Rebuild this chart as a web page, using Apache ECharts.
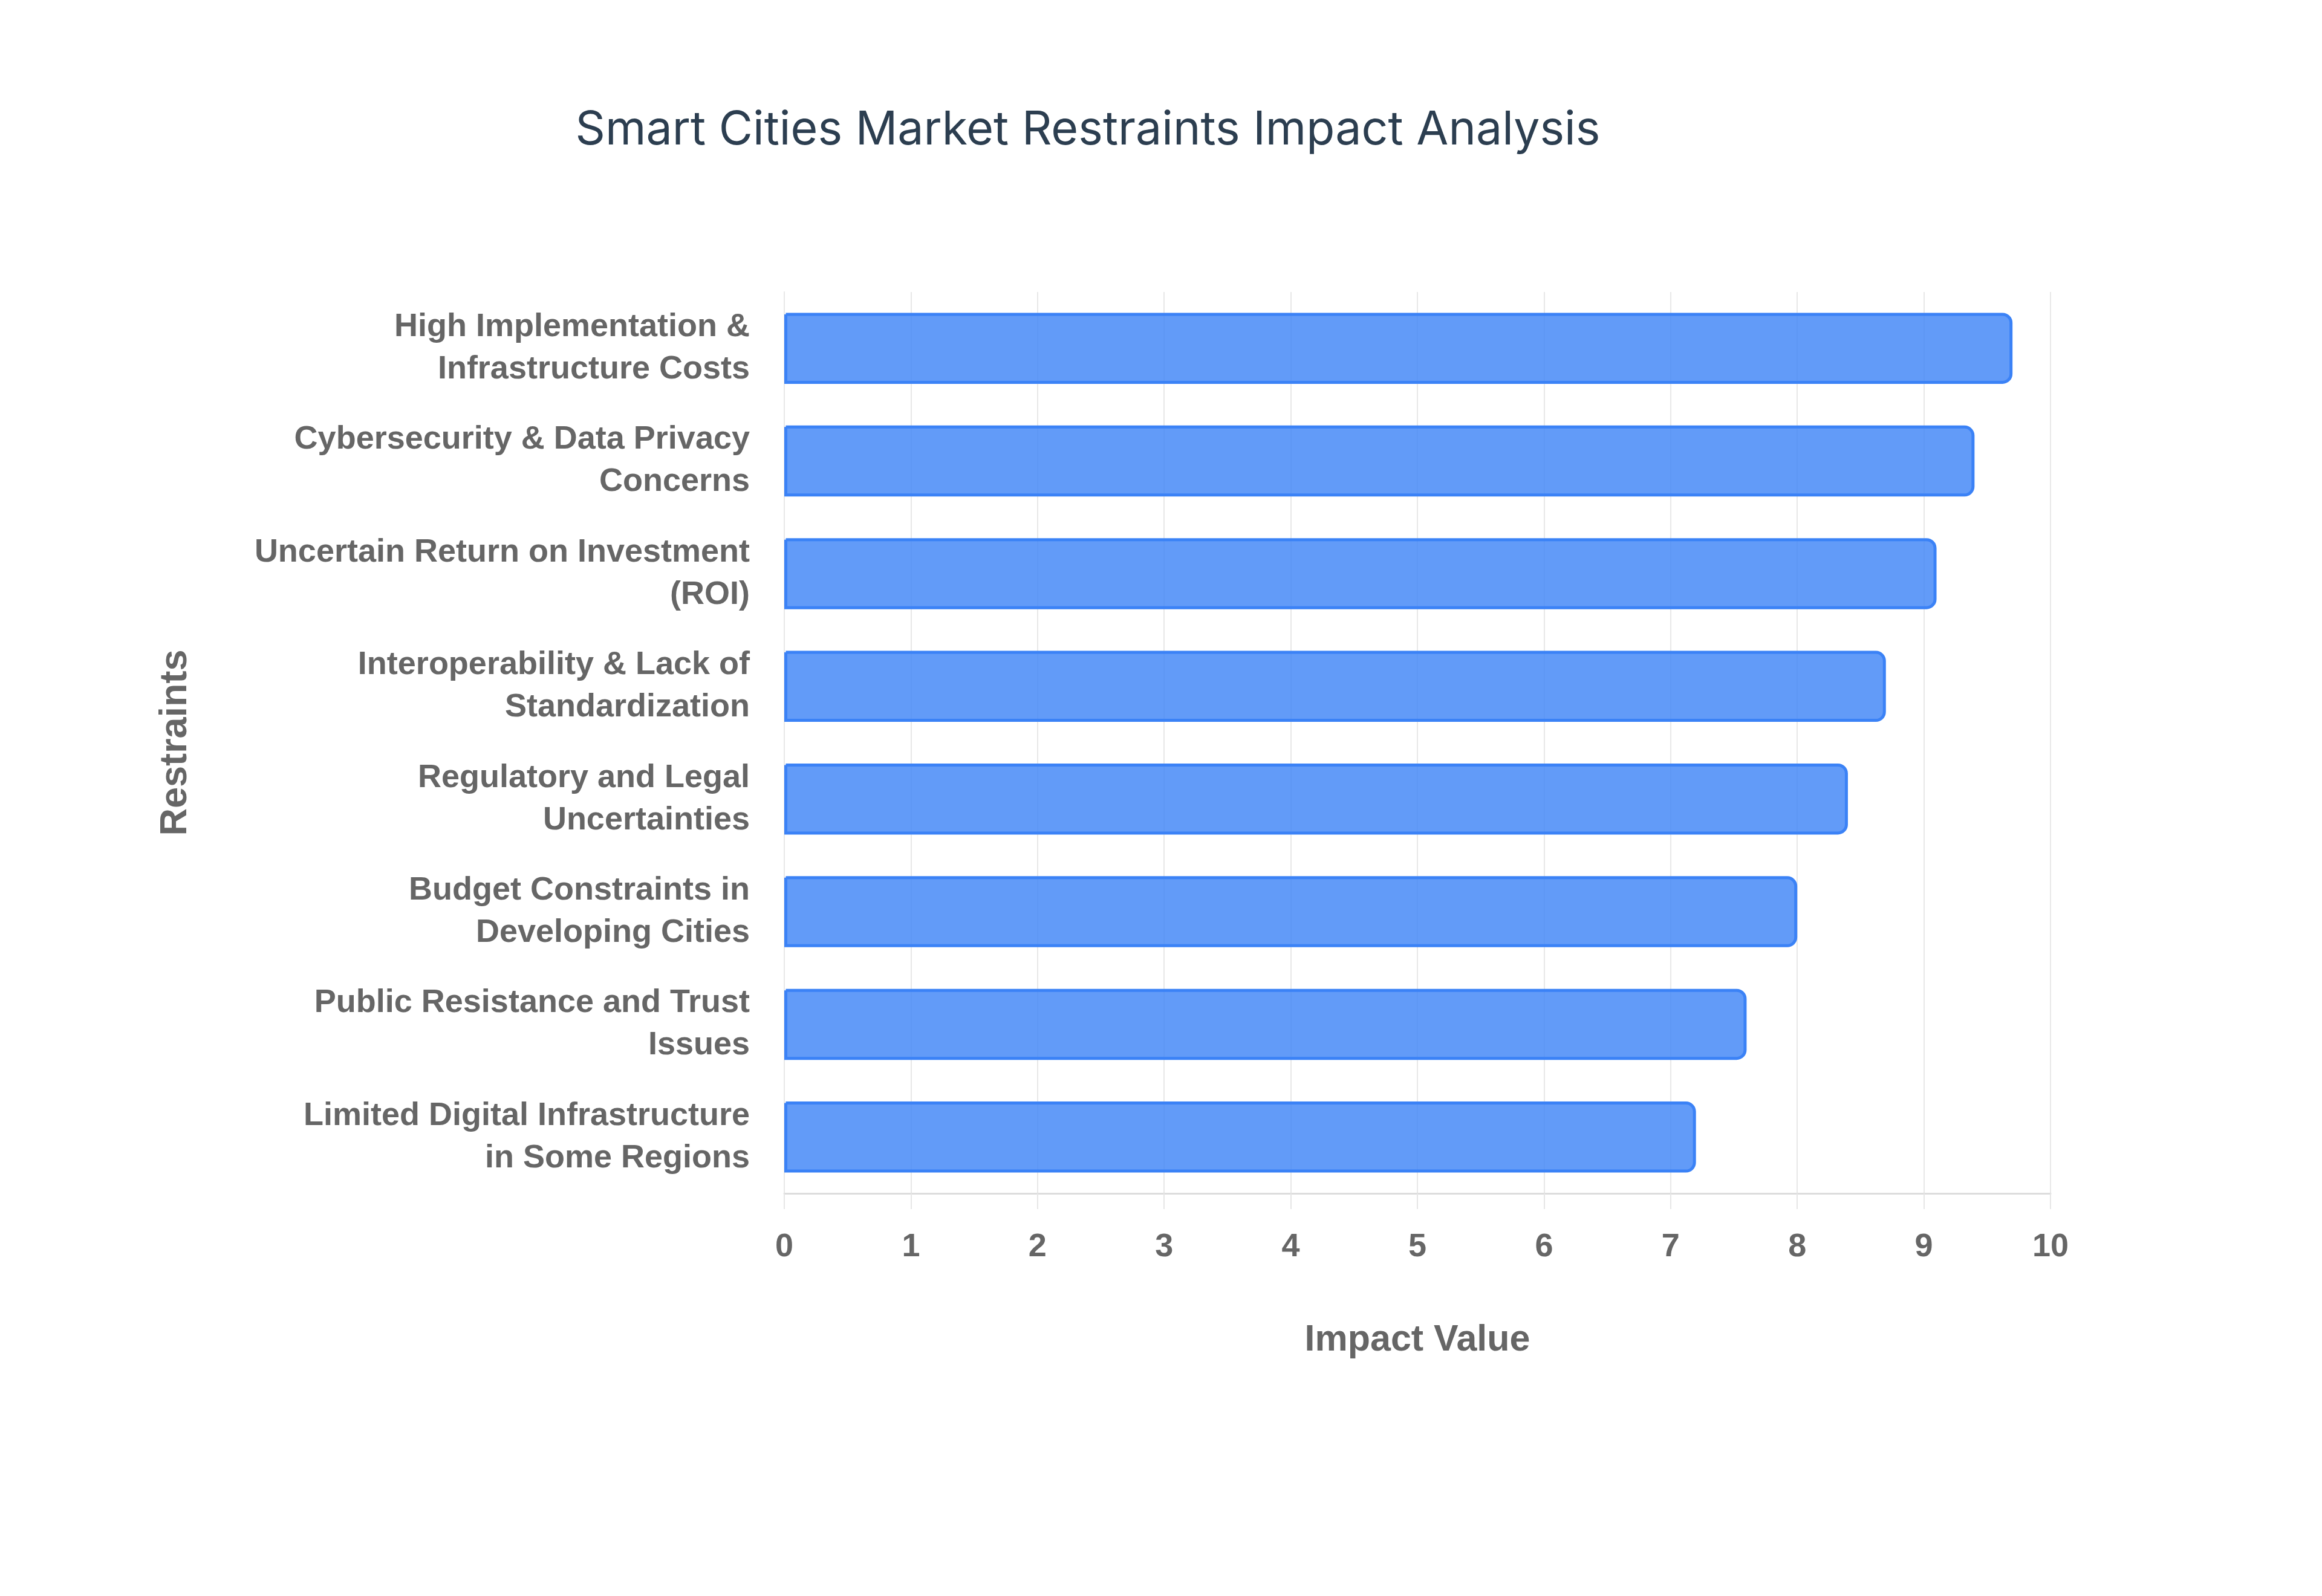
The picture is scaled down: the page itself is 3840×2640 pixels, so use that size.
<!DOCTYPE html>
<html>
<head>
<meta charset="utf-8">
<script src="https://cdn.jsdelivr.net/npm/echarts@6/dist/echarts.min.js"></script>
<style>
  html, body { margin: 0; padding: 0; background: #fff; }
  #chart { width: 3840px; height: 2640px; }
</style>
</head>
<body>
<div id="chart"></div>
<script>
// restraint names (top to bottom), line breaks as in the picture
const restraints = [
  'High Implementation &\nInfrastructure Costs',
  'Cybersecurity & Data Privacy\nConcerns',
  'Uncertain Return on Investment\n(ROI)',
  'Interoperability & Lack of\nStandardization',
  'Regulatory and Legal\nUncertainties',
  'Budget Constraints in\nDeveloping Cities',
  'Public Resistance and Trust\nIssues',
  'Limited Digital Infrastructure\nin Some Regions'
];
const impactValues = [9.7, 9.4, 9.1, 8.7, 8.4, 8.0, 7.6, 7.2];

const chart = echarts.init(document.getElementById('chart'));

const option = {
  backgroundColor: '#ffffff',
  title: {
    text: 'Smart Cities Market Restraints Impact Analysis',
    left: 1794,
    top: 172,
    textAlign: 'center',
    textStyle: {
      fontFamily: 'Inter',
      fontWeight: 'normal',
      fontSize: 77,
      color: '#2c3e50'
    }
  },
  grid: {
    left: 1297,
    right: 449,
    top: 483,
    bottom: 666,
    containLabel: false
  },
  xAxis: {
    type: 'value',
    min: 0,
    max: 10,
    interval: 1,
    name: 'Impact Value',
    nameLocation: 'middle',
    nameGap: 213,
    nameTextStyle: {
      fontFamily: 'Liberation Sans',
      fontWeight: 'bold',
      fontSize: 61,
      color: '#666666'
    },
    axisLine: { show: true, lineStyle: { color: '#dddddd', width: 3 } },
    axisTick: { show: true, length: 26, lineStyle: { color: '#e6e6e6', width: 2 } },
    axisLabel: {
      margin: 62,
      fontFamily: 'Liberation Sans',
      fontWeight: 'bold',
      fontSize: 54,
      color: '#666666'
    },
    splitLine: { show: true, lineStyle: { color: '#e8e8e8', width: 2 } }
  },
  yAxis: {
    type: 'category',
    data: restraints,
    inverse: true,
    name: 'Restraints',
    nameLocation: 'middle',
    nameGap: 975,
    nameRotate: 90,
    nameTextStyle: {
      fontFamily: 'Liberation Sans',
      fontWeight: 'bold',
      fontSize: 63,
      color: '#666666'
    },
    axisLine: { show: true, lineStyle: { color: '#e8e8e8', width: 2 } },
    axisTick: { show: false },
    axisLabel: {
      margin: 57,
      fontFamily: 'Liberation Sans',
      fontWeight: 'bold',
      fontSize: 54,
      lineHeight: 70,
      color: '#666666',
      align: 'right'
    }
  },
  series: [{
    type: 'bar',
    data: impactValues,
    barCategoryGap: '37%',
    itemStyle: {
      color: 'rgba(59,130,246,0.8)',
      borderColor: '#3b82f6',
      borderWidth: 5,
      borderRadius: [0, 14, 14, 0]
    }
  }]
};

chart.setOption(option);
</script>
</body>
</html>
